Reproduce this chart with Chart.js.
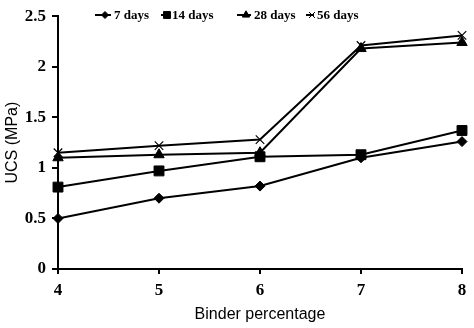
<!DOCTYPE html>
<html lang="en">
<head>
<meta charset="UTF-8">
<title>UCS vs binder percentage</title>
<script src="https://cdn.jsdelivr.net/npm/chart.js"></script>
<style>
  html, body { margin: 0; padding: 0; background: #fff; }
  #wrap { width: 474px; height: 328px; }
</style>
</head>
<body>
<div id="wrap"><canvas id="ucsChart" width="474" height="328"></canvas></div>
<script>
// values
const binder = ['4', '5', '6', '7', '8'];
const ucs7 = [0.50, 0.70, 0.82, 1.10, 1.26];
const ucs14 = [0.81, 0.97, 1.11, 1.13, 1.37];
const ucs28 = [1.10, 1.13, 1.15, 2.18, 2.24];
const ucs56 = [1.15, 1.22, 1.28, 2.21, 2.31];
const seriesNames = ['7 days', '14 days', '28 days', '56 days'];
const markers = ['rectRot', 'rect', 'triangle', 'crossRot'];
const markerSize = [5, 7, 6, 6];

function series(i, data) {
  return {
    label: seriesNames[i],
    data: data,
    borderColor: '#000',
    backgroundColor: '#000',
    borderWidth: 2,
    pointStyle: markers[i],
    pointRadius: markerSize[i],
    pointBorderWidth: i === 3 ? 1.2 : 1,
    tension: 0
  };
}

// small legend drawn inside the plot, like the original
const legendInside = {
  id: 'legendInside',
  afterDraw(chart) {
    const ctx = chart.ctx;
    const y = 15;
    const spots = [[95, 111], [161, 169], [237, 251], [306, 314]];
    ctx.save();
    ctx.font = 'bold 13px "Liberation Serif"';
    ctx.textBaseline = 'middle';
    chart.data.datasets.forEach((ds, i) => {
      const [x0, x1] = spots[i];
      ctx.strokeStyle = '#000';
      ctx.lineWidth = 2;
      ctx.beginPath();
      ctx.moveTo(x0, y);
      ctx.lineTo(x1, y);
      ctx.stroke();
      ctx.fillStyle = '#000';
      ctx.lineWidth = 1;
      Chart.helpers.drawPoint(ctx, {pointStyle: ds.pointStyle, radius: ds.pointRadius * 0.7, borderWidth: 1}, (x0 + x1) / 2 + 2, y);
      ctx.fillText(ds.label, x1 + 3, y + 1);
    });
    ctx.restore();
  }
};

new Chart(document.getElementById('ucsChart'), {
  type: 'line',
  data: {
    labels: binder,
    datasets: [series(0, ucs7), series(1, ucs14), series(2, ucs28), series(3, ucs56)]
  },
  options: {
    responsive: false,
    animation: false,
    layout: { padding: { top: 15, right: 12, left: 0, bottom: 0 } },
    plugins: {
      legend: { display: false },
      tooltip: { enabled: false }
    },
    scales: {
      x: {
        offset: false,
        grid: { drawOnChartArea: false, drawTicks: true, tickLength: 5, color: '#000', lineWidth: 2 },
        border: { color: '#000', width: 2 },
        ticks: { color: '#000', padding: 6, font: { family: 'Liberation Serif', weight: 'bold', size: 17 } },
        title: { display: true, text: 'Binder percentage', color: '#000', padding: { top: 2, bottom: 4 }, font: { family: 'Liberation Sans', size: 16 } },
        afterFit(s) { s.height = 59; }
      },
      y: {
        min: 0,
        max: 2.5,
        grid: { drawOnChartArea: false, drawTicks: true, tickLength: 6, color: '#000', lineWidth: 2 },
        border: { color: '#000', width: 2 },
        ticks: {
          stepSize: 0.5, color: '#000', padding: 6,
          font: { family: 'Liberation Serif', weight: 'bold', size: 17 },
          callback: v => String(v)
        },
        title: { display: true, text: 'UCS (MPa)', color: '#000', padding: { top: 3, bottom: 2 }, font: { family: 'Liberation Sans', size: 16 } },
        afterFit(s) { s.width = 58; }
      }
    }
  },
  plugins: [legendInside]
});
</script>
</body>
</html>
